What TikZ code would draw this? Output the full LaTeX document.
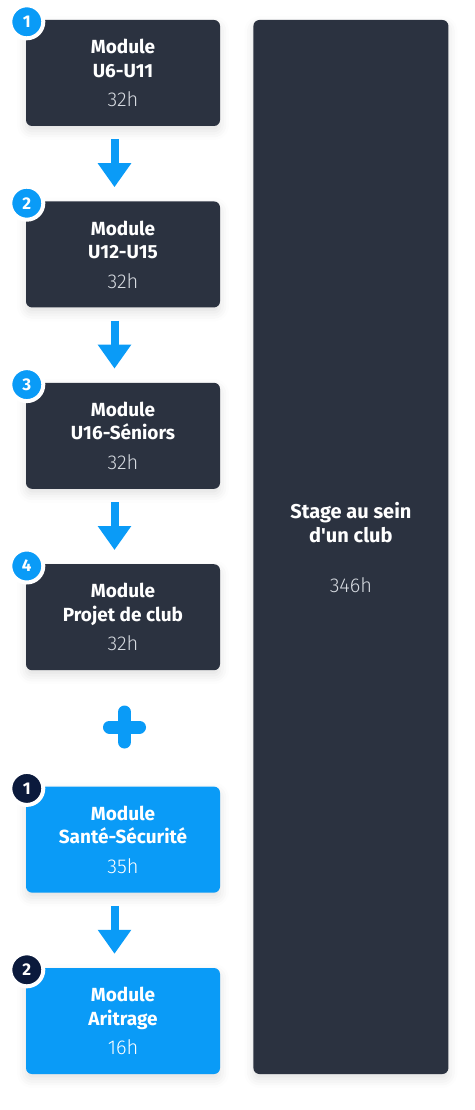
\documentclass[tikz,border=0pt]{standalone}
\usepackage{fontspec}
\setmainfont{Fira Sans}
\newfontfamily\hourfont{Fira Sans Light}
\usetikzlibrary{positioning,arrows.meta,shadows.blur}

\definecolor{boxdark}{RGB}{43,50,64}
\definecolor{boxblue}{RGB}{10,155,247}
\definecolor{badgenavy}{RGB}{11,26,60}
\definecolor{hourgray}{RGB}{215,219,225}

\begin{document}
\begin{tikzpicture}[x=1pt, y=-1pt,
  modbox/.style={rounded corners=6pt, minimum width=194pt, minimum height=106pt,
    align=center, text=white, inner sep=0pt,
    font=\fontsize{19}{23.5}\selectfont\bfseries,
    blur shadow={shadow xshift=0pt, shadow yshift=-5pt, shadow blur radius=9pt, shadow opacity=12}},
  darkbox/.style={modbox, fill=boxdark},
  bluebox/.style={modbox, fill=boxblue},
  badge/.style={circle, draw=white, line width=4pt, minimum size=33pt, inner sep=0pt,
    text=white, font=\fontsize{17}{17}\selectfont\bfseries},
  flowarrow/.style={draw=boxblue, line width=8pt, -{Triangle[width=32pt, length=24pt]}},
  node distance=75pt]
  \useasboundingbox (0,0) rectangle (474,1110);

  % parcours principal
  \node [darkbox] (m1) at (123,73) {Module\\U6-U11\\[6pt]{\hourfont\mdseries\fontsize{20}{20}\selectfont\color{hourgray}32h}};
  \node [darkbox, below=of m1] (m2) {Module\\U12-U15\\[6pt]{\hourfont\mdseries\fontsize{20}{20}\selectfont\color{hourgray}32h}};
  \node [darkbox, below=of m2] (m3) {Module\\U16-Séniors\\[6pt]{\hourfont\mdseries\fontsize{20}{20}\selectfont\color{hourgray}32h}};
  \node [darkbox, below=of m3] (m4) {Module\\Projet de club\\[6pt]{\hourfont\mdseries\fontsize{20}{20}\selectfont\color{hourgray}32h}};
  \node [bluebox, below=116pt of m4] (s1) {Module\\Santé-Sécurité\\[6pt]{\hourfont\mdseries\fontsize{20}{20}\selectfont 35h}};
  \node [bluebox, below=of s1] (s2) {Module\\Aritrage\\[6pt]{\hourfont\mdseries\fontsize{20}{20}\selectfont 16h}};

  % stage
  \node [modbox, fill=boxdark, minimum width=195pt, minimum height=1054pt, anchor=north west,
    font=\fontsize{20}{24}\selectfont\bfseries]
    (stage) at ([xshift=33pt]m1.north east) {Stage au sein\\d\textquotesingle un club\\[26pt]{\hourfont\mdseries\fontsize{20}{20}\selectfont\color{hourgray}346h}};

  % pastilles
  \node [badge, fill=boxblue] (b1) at ([xshift=1pt,yshift=-2pt]m1.north west) {1};
  \node [badge, fill=boxblue] (b2) at ([xshift=1pt,yshift=-2pt]m2.north west) {2};
  \node [badge, fill=boxblue] (b3) at ([xshift=1pt,yshift=-2pt]m3.north west) {3};
  \node [badge, fill=boxblue] (b4) at ([xshift=1pt,yshift=-2pt]m4.north west) {4};
  \node [badge, fill=badgenavy] (c1) at ([xshift=1pt,yshift=-2pt]s1.north west) {1};
  \node [badge, fill=badgenavy] (c2) at ([xshift=1pt,yshift=-2pt]s2.north west) {2};

  % fleches
  \draw [flowarrow] ([xshift=-8.5pt,yshift=-13pt]m1.south) -- ([xshift=-8.5pt,yshift=14pt]m2.north);
  \draw [flowarrow] ([xshift=-8.5pt,yshift=-13pt]m2.south) -- ([xshift=-8.5pt,yshift=14pt]m3.north);
  \draw [flowarrow] ([xshift=-8.5pt,yshift=-13pt]m3.south) -- ([xshift=-8.5pt,yshift=14pt]m4.north);
  \draw [flowarrow] ([xshift=-8.5pt,yshift=-13pt]s1.south) -- ([xshift=-8.5pt,yshift=14pt]s2.north);

  % plus
  \coordinate (plus) at (124.5,727);
  \draw [boxblue, line width=13pt, line cap=round] ([xshift=-15pt]plus) -- ([xshift=15pt]plus);
  \draw [boxblue, line width=13pt, line cap=round] ([yshift=-15pt]plus) -- ([yshift=15pt]plus);
\end{tikzpicture}
\end{document}
